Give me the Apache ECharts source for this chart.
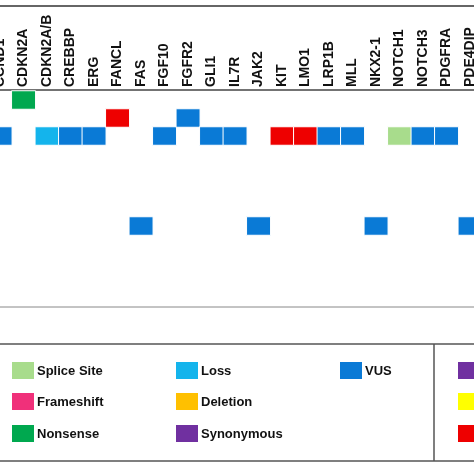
<!DOCTYPE html>
<html><head><meta charset="utf-8">
<script src="https://cdn.jsdelivr.net/npm/echarts@6/dist/echarts.min.js"></script>
<style>html,body{margin:0;padding:0;background:#fff;overflow:hidden}#c{width:500px;height:474px;position:absolute;left:-12px;top:0}</style>
</head><body><div id="c"></div>
<script>
const genes = ['CCND1','CDKN2A','CDKN2A/B','CREBBP','ERG','FANCL','FAS','FGF10','FGFR2','GLI1','IL7R','JAK2','KIT','LMO1','LRP1B','MLL','NKX2-1','NOTCH1','NOTCH3','PDGFRA','PDE4DIP'];
const rows = ['r0','r1','r2','r3','r4','r5','r6','r7','r8','r9','r10','r11'];
const types = ['Splice Site','Frameshift','Nonsense','Loss','Deletion','Synonymous','VUS','Other1','Other2','Other3'];
const typeColors = ['#a8dc8c','#f0307a','#00a84f','#14b4ec','#ffc000','#7030a0','#0a7ad6','#7030a0','#ffff00','#ee0000'];
const mutRed = 'Other3';
// [gene, row, type]
const cells = [
 ['CCND1',2,'VUS'],['CDKN2A',0,'Nonsense'],['CDKN2A/B',2,'Loss'],['CREBBP',2,'VUS'],['ERG',2,'VUS'],
 ['FANCL',1,mutRed],['FGF10',2,'VUS'],['FGFR2',1,'VUS'],['GLI1',2,'VUS'],['IL7R',2,'VUS'],
 ['KIT',2,mutRed],['LMO1',2,mutRed],['LRP1B',2,'VUS'],['MLL',2,'VUS'],['NOTCH1',2,'Splice Site'],
 ['NOTCH3',2,'VUS'],['PDGFRA',2,'VUS'],
 ['FAS',7,'VUS'],['JAK2',7,'VUS'],['NKX2-1',7,'VUS'],['PDE4DIP',7,'VUS']
];
const legendItems = [['Splice Site','Frameshift','Nonsense'],['Loss','Deletion','Synonymous'],['VUS'],['Other1','Other2','Other3']];
const chart = echarts.init(document.getElementById('c'));
const data = cells.map(c => ({value:[genes.indexOf(c[0]), c[1], types.indexOf(c[2])], itemStyle:{color:typeColors[types.indexOf(c[2])]}}));
const o = 12;
const g = [];
const ln = (x1,y1,x2,y2,s,w)=>g.push({type:'line',shape:{x1:x1+o,y1,x2:x2+o,y2},style:{stroke:s,lineWidth:w}});
ln(0,6,474,6,'#666',2);
ln(0,90,474,90,'#444',1.5);
ln(0,307,474,307,'#888',1);
ln(0,344,474,344,'#555',1.5);
ln(0,461,474,461,'#555',1.5);
ln(434,344,434,461,'#555',1.5);
const colX = [12,176,340,458], rowY = [371,402,434];
legendItems.forEach((col,ci)=>col.forEach((name,ri)=>{
  const t = types.indexOf(name);
  g.push({type:'rect',shape:{x:colX[ci]+o,y:rowY[ri]-9,width:22,height:17},style:{fill:typeColors[t]}});
  if (ci<3) g.push({type:'text',x:colX[ci]+o+25,y:rowY[ri],style:{text:name,fill:'#111',font:'bold 13px Arial, Liberation Sans',verticalAlign:'middle'}});
}));
chart.setOption({
  animation:false,
  grid:{left:0.3,top:91,width:493.5,height:216},
  xAxis:{type:'category',data:genes,position:'top',axisLine:{show:false},axisTick:{show:false},
    axisLabel:{rotate:-90,interval:0,color:'#111',fontSize:14,fontWeight:'bold',fontFamily:'Arial, Liberation Sans',margin:4}},
  yAxis:{type:'category',data:rows,inverse:true,show:false},
  series:[{type:'heatmap',data:data,itemStyle:{borderColor:'#fff',borderWidth:1}}],
  graphic:g
});
</script></body></html>
